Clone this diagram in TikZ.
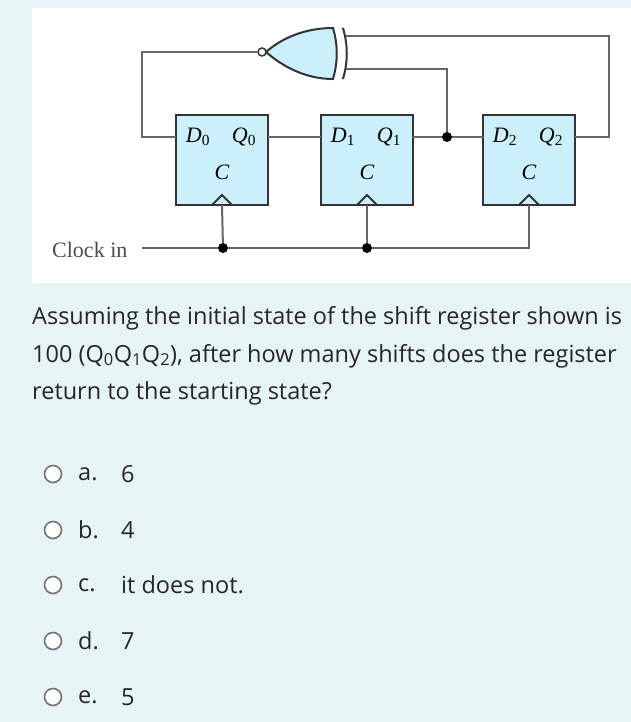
\documentclass[tikz,border=0pt]{standalone}
\usepackage{fontspec}
\setmainfont{Open Sans}
\newfontfamily\circfont{Liberation Serif}
\begin{document}
\begin{tikzpicture}[x=1pt,y=-1pt,
  wire/.style={draw=black!60,line width=2pt},
  ff/.style={draw=black!80,line width=2.2pt,fill=cyan!20!white},
  jdot/.style={circle,fill=black,inner sep=0pt,minimum size=10pt},
  lab/.style={font=\circfont\itshape\fontsize{22}{24}\selectfont},
  txt/.style={anchor=west,inner sep=0pt,font=\fontsize{23.5}{27}\selectfont,text=black!85},
  opt/.style={circle,draw=black!55,line width=1.6pt,fill=white,minimum size=17pt,inner sep=0pt}]
\definecolor{bg}{HTML}{E7F4F6}
\fill[bg] (0,0) rectangle (631,722);
\useasboundingbox (0,0) rectangle (631,722);
\fill[white] (32,8) rectangle (631,283);
% flip-flops
\foreach \n/\x in {0/176,1/321,2/483}{
  \draw[ff] (\x,115) rectangle ++(92,90);
  \node[lab] (d\n) at (\x+22,137) {D\textsubscript{\upshape\n}};
  \node[lab] (q\n) at (\x+68,137) {Q\textsubscript{\upshape\n}};
  \node[lab] (c\n) at (\x+46,172) {C};
  \draw[black!80,line width=1.8pt] (\x+36,205) -- (\x+46,195) -- (\x+56,205);
  \coordinate (ck\n) at (\x+46,205);
}
\coordinate (din0) at (176,137); \coordinate (qout0) at (268,137);
\coordinate (din1) at (321,137); \coordinate (qout1) at (413,137);
\coordinate (din2) at (483,137); \coordinate (qout2) at (575,137);
% gate
\draw[black!80,line width=2pt,fill=cyan!20!white] (333,28) .. controls (305,28) and (282,38) .. (266,52) .. controls (282,66) and (305,79) .. (333,79) .. controls (338,62) and (338,45) .. (333,28) -- cycle;
\draw[black!80,line width=2pt] (343,28) .. controls (348,45) and (348,62) .. (343,79);
\node[circle,draw=black!80,line width=1.5pt,fill=white,inner sep=0pt,minimum size=8pt] (bub) at (262,52) {};
\coordinate (in1) at (346,36); \coordinate (in2) at (346,69);
% wires
\draw[wire] (qout0) -- (din1);
\draw[wire] (qout1) -- (din2);
\node[jdot] (j1) at (447,137) {};
\draw[wire] (in2) -| (j1);
\draw[wire] (qout2) -- (609,137) |- (in1);
\draw[wire] (bub.west) -- (142,52) |- (din0);
% clock
\node[font=\circfont\fontsize{22}{24}\selectfont,text=black!70,anchor=west,inner sep=0pt] (clk) at (52,250) {Clock in};
\node[jdot] (j2) at (223,248) {};
\node[jdot] (j3) at (367,248) {};
\draw[wire] (142,248) -- (j2) -- (j3) -- (529,248) -- (ck2);
\draw[wire] (j2) -- (ck0);
\draw[wire] (j3) -- (ck1);
% question
\node[txt] (q1) at (32,318) {Assuming the initial state of the shift register shown is};
\node[txt] (q2) at (32,356) {100 (Q\textsubscript{0}Q\textsubscript{1}Q\textsubscript{2}), after how many shifts does the register};
\node[txt] (q3) at (32,393) {return to the starting state?};
\foreach \l/\v/\y [count=\i] in {a./6/474,b./4/530,c./it does not./585,d./7/641,e./5/697}{
  \node[opt] (o\i) at (53,\y) {};
  \node[txt] (l\i) at (78,\y) {\l};
  \node[txt] (v\i) at (121,\y) {\v};
}
\end{tikzpicture}
\end{document}
